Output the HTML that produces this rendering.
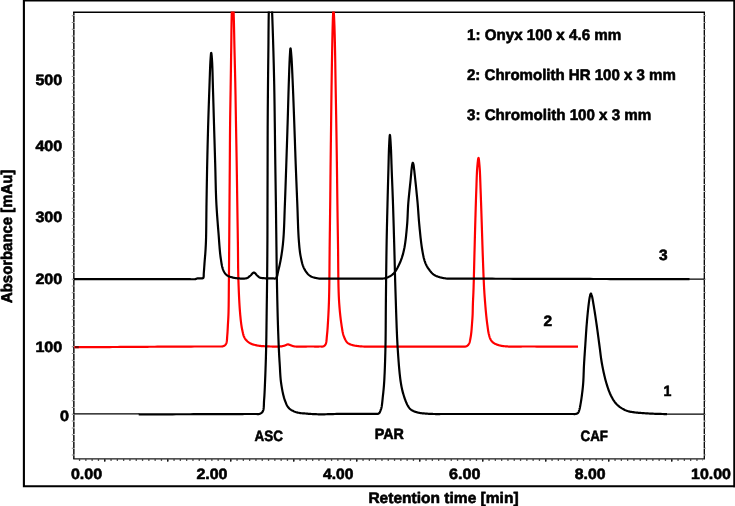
<!DOCTYPE html>
<html lang="en"><head><meta charset="utf-8"><title>Chromatogram</title>
<style>
html,body{margin:0;padding:0;background:#fff;}
body{width:735px;height:506px;overflow:hidden;}
svg{display:block;}
</style></head><body>
<svg width="735" height="506" viewBox="0 0 735 506">
<defs><clipPath id="plot"><rect x="73" y="11.4" width="632" height="448"/></clipPath></defs>
<rect x="0" y="0" width="735" height="506" fill="#fff"/>
<path d="M23.9 0 V486.2 H735" fill="none" stroke="#000" stroke-width="2.1"/>
<path d="M23 0.6 H735" fill="none" stroke="#000" stroke-width="1.6"/>
<path d="M734.2 0 V487.25" fill="none" stroke="#000" stroke-width="1.9"/>
<path d="M73.1 12.2 H704.9" fill="none" stroke="#000" stroke-width="1.6"/>
<path d="M73.85 12 V459" fill="none" stroke="#000" stroke-width="1.4" stroke-dasharray="6.237 0.52" stroke-dashoffset="2.8"/>
<path d="M704.3 12 V459" fill="none" stroke="#000" stroke-width="1.3" stroke-dasharray="6.237 0.52" stroke-dashoffset="2.8"/>
<path d="M73.2 458.8 H705" fill="none" stroke="#1a1a1a" stroke-width="1.3"/>
<path d="M78.9 460.0 H703" fill="none" stroke="#222" stroke-width="1.4" stroke-dasharray="1.3 5.0"/>
<path d="M104.1 460.6 H703" fill="none" stroke="#111" stroke-width="2.4" stroke-dasharray="1.3 61.7"/>
<path d="M72.5 15.2 V459" fill="none" stroke="#888" stroke-width="1.4" stroke-dasharray="1 5.757"/>
<path d="M705.5 15.2 V459" fill="none" stroke="#aaa" stroke-width="1" stroke-dasharray="1 5.757"/>
<g clip-path="url(#plot)" fill="none" stroke-linejoin="round" stroke-linecap="butt">
<path d="M74.30 347.20 L76.44 347.19 L78.56 347.18 L80.68 347.18 L82.79 347.17 L84.91 347.16 L87.03 347.16 L89.15 347.15 L91.29 347.14 L93.44 347.13 L95.60 347.12 L97.79 347.11 L100.00 347.10 L102.42 347.09 L104.87 347.07 L107.34 347.06 L109.83 347.04 L112.34 347.02 L114.86 347.01 L117.38 346.99 L119.91 346.97 L122.45 346.95 L124.97 346.93 L127.49 346.92 L130.00 346.90 L132.49 346.88 L134.95 346.87 L137.40 346.85 L139.84 346.83 L142.28 346.82 L144.73 346.80 L147.19 346.78 L149.68 346.76 L152.20 346.75 L154.75 346.73 L157.35 346.72 L160.00 346.70 L163.19 346.68 L166.56 346.66 L170.05 346.64 L173.62 346.62 L177.23 346.60 L180.84 346.58 L184.41 346.56 L187.88 346.55 L191.22 346.53 L194.38 346.52 L197.32 346.51 L200.00 346.50 L201.53 346.50 L203.03 346.49 L204.48 346.49 L205.89 346.49 L207.25 346.49 L208.55 346.49 L209.79 346.50 L210.98 346.50 L212.09 346.50 L213.14 346.50 L214.11 346.50 L215.00 346.50 L215.42 346.50 L215.82 346.50 L216.19 346.50 L216.54 346.50 L216.87 346.51 L217.18 346.51 L217.49 346.51 L217.79 346.51 L218.09 346.51 L218.39 346.51 L218.69 346.50 L219.00 346.50 L219.29 346.50 L219.58 346.50 L219.86 346.51 L220.15 346.51 L220.43 346.52 L220.71 346.52 L220.99 346.52 L221.26 346.51 L221.53 346.50 L221.79 346.48 L222.05 346.44 L222.30 346.40 L222.51 346.36 L222.72 346.31 L222.93 346.25 L223.13 346.20 L223.33 346.14 L223.52 346.07 L223.72 345.99 L223.90 345.91 L224.08 345.82 L224.26 345.72 L224.43 345.62 L224.60 345.50 L224.77 345.37 L224.94 345.23 L225.10 345.08 L225.25 344.93 L225.40 344.77 L225.55 344.60 L225.69 344.42 L225.82 344.22 L225.95 344.01 L226.07 343.79 L226.19 343.55 L226.30 343.30 L226.47 342.81 L226.61 342.26 L226.73 341.64 L226.83 340.98 L226.91 340.29 L226.98 339.56 L227.04 338.80 L227.09 338.04 L227.14 337.26 L227.19 336.50 L227.24 335.74 L227.30 335.00 L227.37 334.20 L227.43 333.40 L227.49 332.59 L227.54 331.77 L227.59 330.94 L227.64 330.11 L227.68 329.27 L227.72 328.43 L227.77 327.58 L227.81 326.73 L227.85 325.87 L227.90 325.00 L227.95 324.07 L228.01 323.16 L228.06 322.26 L228.11 321.36 L228.17 320.46 L228.22 319.54 L228.27 318.59 L228.32 317.61 L228.37 316.59 L228.42 315.52 L228.46 314.40 L228.50 313.20 L228.56 311.03 L228.61 308.66 L228.66 306.11 L228.69 303.43 L228.73 300.63 L228.75 297.73 L228.78 294.78 L228.80 291.79 L228.83 288.79 L228.85 285.81 L228.87 282.87 L228.90 280.00 L228.93 277.06 L228.96 274.11 L228.98 271.15 L229.01 268.18 L229.03 265.20 L229.06 262.21 L229.08 259.21 L229.11 256.19 L229.13 253.17 L229.15 250.13 L229.18 247.07 L229.20 244.00 L229.23 240.74 L229.25 237.46 L229.28 234.15 L229.30 230.82 L229.33 227.48 L229.35 224.13 L229.38 220.77 L229.40 217.41 L229.43 214.05 L229.45 210.69 L229.48 207.34 L229.50 204.00 L229.52 200.67 L229.55 197.33 L229.57 194.00 L229.60 190.67 L229.62 187.33 L229.65 184.00 L229.68 180.67 L229.70 177.33 L229.72 174.00 L229.75 170.67 L229.78 167.33 L229.80 164.00 L229.82 160.67 L229.85 157.33 L229.87 154.00 L229.89 150.67 L229.91 147.33 L229.93 144.00 L229.95 140.67 L229.98 137.33 L230.00 134.00 L230.03 130.67 L230.06 127.33 L230.10 124.00 L230.14 120.66 L230.18 117.30 L230.23 113.92 L230.28 110.55 L230.33 107.17 L230.39 103.80 L230.44 100.44 L230.49 97.09 L230.55 93.77 L230.60 90.48 L230.65 87.22 L230.70 84.00 L230.74 81.08 L230.79 78.20 L230.83 75.35 L230.87 72.53 L230.91 69.73 L230.95 66.95 L230.99 64.16 L231.03 61.37 L231.07 58.57 L231.11 55.74 L231.16 52.89 L231.20 50.00 L231.25 46.86 L231.29 43.63 L231.33 40.32 L231.37 36.97 L231.41 33.61 L231.45 30.25 L231.50 26.94 L231.55 23.70 L231.60 20.56 L231.66 17.54 L231.73 14.68 L231.80 12.00 L231.85 10.15 L231.91 8.20 L231.97 6.19 L232.04 4.17 L232.10 2.21 L232.17 0.33 L232.24 -1.39 L232.31 -2.91 L232.38 -4.19 L232.45 -5.16 L232.53 -5.78 L232.60 -6.00 L232.68 -5.78 L232.76 -5.16 L232.84 -4.19 L232.93 -2.91 L233.02 -1.39 L233.11 0.33 L233.20 2.20 L233.28 4.17 L233.37 6.19 L233.45 8.20 L233.53 10.15 L233.60 12.00 L233.70 14.68 L233.79 17.54 L233.87 20.56 L233.95 23.70 L234.02 26.94 L234.09 30.25 L234.16 33.60 L234.23 36.97 L234.29 40.32 L234.36 43.63 L234.43 46.86 L234.50 50.00 L234.57 52.89 L234.64 55.74 L234.71 58.57 L234.78 61.37 L234.84 64.16 L234.91 66.95 L234.98 69.73 L235.05 72.53 L235.11 75.35 L235.18 78.20 L235.24 81.08 L235.30 84.00 L235.36 87.22 L235.43 90.48 L235.49 93.77 L235.55 97.09 L235.60 100.44 L235.66 103.80 L235.72 107.17 L235.77 110.55 L235.83 113.92 L235.89 117.30 L235.94 120.66 L236.00 124.00 L236.06 127.33 L236.12 130.67 L236.18 134.00 L236.24 137.33 L236.30 140.67 L236.36 144.00 L236.42 147.33 L236.47 150.67 L236.53 154.00 L236.59 157.33 L236.65 160.67 L236.70 164.00 L236.75 167.33 L236.81 170.67 L236.86 174.00 L236.91 177.33 L236.96 180.67 L237.01 184.00 L237.06 187.33 L237.10 190.67 L237.15 194.00 L237.20 197.33 L237.25 200.67 L237.30 204.00 L237.35 207.34 L237.40 210.69 L237.45 214.05 L237.50 217.41 L237.55 220.77 L237.60 224.13 L237.66 227.48 L237.71 230.82 L237.76 234.15 L237.80 237.46 L237.85 240.74 L237.90 244.00 L237.94 247.07 L237.97 250.13 L238.00 253.17 L238.02 256.20 L238.05 259.21 L238.07 262.21 L238.10 265.20 L238.14 268.18 L238.19 271.15 L238.24 274.11 L238.31 277.06 L238.40 280.00 L238.50 282.85 L238.60 285.75 L238.71 288.66 L238.82 291.59 L238.95 294.51 L239.08 297.40 L239.23 300.25 L239.38 303.03 L239.54 305.74 L239.72 308.35 L239.90 310.84 L240.10 313.20 L240.24 314.80 L240.39 316.37 L240.53 317.90 L240.68 319.38 L240.84 320.83 L241.00 322.24 L241.17 323.60 L241.35 324.92 L241.54 326.21 L241.75 327.45 L241.97 328.64 L242.20 329.80 L242.37 330.60 L242.53 331.38 L242.69 332.13 L242.86 332.87 L243.02 333.58 L243.20 334.27 L243.39 334.94 L243.60 335.59 L243.83 336.22 L244.09 336.83 L244.38 337.43 L244.70 338.00 L245.02 338.51 L245.36 339.00 L245.71 339.47 L246.09 339.93 L246.48 340.38 L246.89 340.80 L247.32 341.21 L247.76 341.61 L248.22 341.98 L248.70 342.34 L249.19 342.68 L249.70 343.00 L250.29 343.33 L250.90 343.63 L251.55 343.91 L252.22 344.16 L252.90 344.39 L253.61 344.61 L254.33 344.80 L255.05 344.98 L255.79 345.15 L256.53 345.31 L257.26 345.46 L258.00 345.60 L258.79 345.74 L259.59 345.86 L260.39 345.96 L261.20 346.05 L262.02 346.12 L262.85 346.18 L263.68 346.22 L264.53 346.27 L265.38 346.30 L266.24 346.33 L267.12 346.37 L268.00 346.40 L269.05 346.44 L270.16 346.48 L271.32 346.51 L272.51 346.55 L273.72 346.57 L274.91 346.59 L276.09 346.59 L277.22 346.58 L278.29 346.56 L279.29 346.53 L280.20 346.47 L281.00 346.40 L281.37 346.35 L281.72 346.30 L282.04 346.25 L282.34 346.19 L282.63 346.13 L282.90 346.06 L283.17 345.99 L283.43 345.92 L283.69 345.84 L283.95 345.76 L284.22 345.68 L284.50 345.60 L284.79 345.51 L285.07 345.40 L285.36 345.27 L285.65 345.14 L285.93 345.01 L286.22 344.88 L286.50 344.76 L286.78 344.64 L287.06 344.55 L287.34 344.47 L287.62 344.42 L287.90 344.40 L288.16 344.41 L288.42 344.45 L288.68 344.50 L288.94 344.58 L289.19 344.67 L289.45 344.77 L289.70 344.88 L289.96 344.99 L290.21 345.10 L290.47 345.21 L290.73 345.31 L291.00 345.40 L291.28 345.49 L291.54 345.58 L291.80 345.67 L292.05 345.76 L292.31 345.85 L292.57 345.94 L292.84 346.03 L293.13 346.11 L293.44 346.20 L293.76 346.27 L294.12 346.34 L294.50 346.40 L295.41 346.50 L296.48 346.57 L297.67 346.61 L298.97 346.63 L300.34 346.63 L301.76 346.62 L303.22 346.60 L304.67 346.57 L306.10 346.54 L307.48 346.52 L308.79 346.50 L310.00 346.50 L310.93 346.50 L311.85 346.51 L312.77 346.51 L313.69 346.52 L314.58 346.53 L315.46 346.53 L316.31 346.53 L317.13 346.53 L317.91 346.53 L318.66 346.53 L319.35 346.52 L320.00 346.50 L320.36 346.50 L320.70 346.50 L321.03 346.51 L321.35 346.53 L321.65 346.54 L321.94 346.55 L322.22 346.55 L322.49 346.54 L322.75 346.51 L323.01 346.47 L323.26 346.40 L323.50 346.30 L323.73 346.19 L323.94 346.06 L324.15 345.92 L324.35 345.77 L324.55 345.60 L324.74 345.42 L324.91 345.22 L325.09 345.01 L325.25 344.78 L325.41 344.54 L325.56 344.28 L325.70 344.00 L325.92 343.48 L326.10 342.88 L326.25 342.21 L326.38 341.50 L326.48 340.73 L326.57 339.94 L326.65 339.11 L326.72 338.28 L326.78 337.44 L326.85 336.61 L326.92 335.79 L327.00 335.00 L327.09 334.19 L327.17 333.40 L327.24 332.62 L327.31 331.85 L327.38 331.06 L327.44 330.27 L327.50 329.46 L327.56 328.62 L327.62 327.76 L327.68 326.85 L327.74 325.90 L327.80 324.90 L327.90 323.24 L328.01 321.51 L328.12 319.69 L328.23 317.79 L328.33 315.81 L328.44 313.76 L328.54 311.64 L328.65 309.45 L328.74 307.19 L328.83 304.86 L328.92 302.46 L329.00 300.00 L329.10 296.09 L329.19 291.85 L329.27 287.36 L329.34 282.65 L329.39 277.78 L329.44 272.81 L329.48 267.80 L329.52 262.80 L329.56 257.86 L329.61 253.05 L329.65 248.41 L329.70 244.00 L329.74 240.43 L329.79 236.94 L329.83 233.53 L329.88 230.17 L329.92 226.86 L329.96 223.58 L330.00 220.33 L330.04 217.08 L330.08 213.84 L330.12 210.59 L330.16 207.31 L330.20 204.00 L330.24 200.67 L330.27 197.33 L330.30 194.00 L330.34 190.67 L330.37 187.33 L330.40 184.00 L330.43 180.67 L330.46 177.33 L330.50 174.00 L330.53 170.67 L330.56 167.33 L330.60 164.00 L330.64 160.67 L330.68 157.33 L330.72 154.00 L330.76 150.67 L330.80 147.33 L330.84 144.00 L330.89 140.67 L330.93 137.33 L330.97 134.00 L331.02 130.67 L331.06 127.33 L331.10 124.00 L331.14 120.66 L331.18 117.31 L331.22 113.95 L331.26 110.59 L331.30 107.23 L331.34 103.87 L331.38 100.52 L331.42 97.18 L331.47 93.85 L331.51 90.54 L331.55 87.26 L331.60 84.00 L331.65 80.91 L331.69 77.80 L331.74 74.68 L331.79 71.56 L331.84 68.46 L331.89 65.38 L331.94 62.33 L331.99 59.33 L332.05 56.39 L332.10 53.51 L332.15 50.71 L332.20 48.00 L332.24 45.88 L332.28 43.77 L332.32 41.69 L332.36 39.64 L332.40 37.63 L332.44 35.65 L332.48 33.73 L332.53 31.86 L332.57 30.04 L332.61 28.29 L332.66 26.61 L332.70 25.00 L332.73 23.93 L332.76 22.88 L332.79 21.85 L332.82 20.86 L332.85 19.89 L332.88 18.95 L332.91 18.04 L332.94 17.16 L332.98 16.32 L333.02 15.51 L333.06 14.73 L333.10 14.00 L333.13 13.53 L333.16 13.03 L333.19 12.52 L333.23 12.02 L333.26 11.53 L333.29 11.06 L333.33 10.64 L333.36 10.26 L333.40 9.95 L333.43 9.71 L333.47 9.55 L333.50 9.50 L333.53 9.55 L333.57 9.71 L333.60 9.95 L333.64 10.26 L333.67 10.64 L333.70 11.06 L333.74 11.53 L333.77 12.02 L333.80 12.52 L333.84 13.03 L333.87 13.53 L333.90 14.00 L333.95 14.73 L333.99 15.51 L334.04 16.32 L334.08 17.16 L334.12 18.04 L334.16 18.95 L334.20 19.89 L334.24 20.86 L334.28 21.85 L334.32 22.88 L334.36 23.93 L334.40 25.00 L334.46 26.61 L334.51 28.29 L334.56 30.04 L334.61 31.85 L334.67 33.73 L334.72 35.65 L334.76 37.63 L334.81 39.64 L334.86 41.69 L334.91 43.77 L334.95 45.88 L335.00 48.00 L335.06 50.71 L335.11 53.51 L335.16 56.39 L335.21 59.33 L335.26 62.33 L335.31 65.38 L335.35 68.46 L335.40 71.56 L335.45 74.68 L335.50 77.80 L335.55 80.91 L335.60 84.00 L335.66 87.26 L335.71 90.54 L335.77 93.85 L335.83 97.18 L335.89 100.52 L335.95 103.87 L336.01 107.23 L336.07 110.59 L336.13 113.95 L336.19 117.31 L336.24 120.66 L336.30 124.00 L336.35 127.33 L336.41 130.67 L336.46 134.00 L336.51 137.33 L336.56 140.67 L336.61 144.00 L336.66 147.33 L336.71 150.67 L336.76 154.00 L336.81 157.33 L336.85 160.67 L336.90 164.00 L336.94 167.33 L336.99 170.67 L337.03 174.00 L337.07 177.33 L337.11 180.67 L337.15 184.00 L337.19 187.33 L337.23 190.67 L337.27 194.00 L337.31 197.33 L337.36 200.67 L337.40 204.00 L337.45 207.31 L337.49 210.59 L337.54 213.84 L337.58 217.08 L337.63 220.33 L337.68 223.58 L337.73 226.86 L337.78 230.17 L337.83 233.53 L337.89 236.94 L337.94 240.43 L338.00 244.00 L338.06 248.41 L338.11 253.05 L338.15 257.87 L338.19 262.80 L338.23 267.81 L338.28 272.82 L338.33 277.78 L338.41 282.65 L338.51 287.36 L338.64 291.86 L338.80 296.09 L339.00 300.00 L339.15 302.46 L339.32 304.84 L339.49 307.15 L339.68 309.40 L339.88 311.57 L340.09 313.67 L340.30 315.71 L340.53 317.68 L340.76 319.58 L341.00 321.42 L341.25 323.19 L341.50 324.90 L341.67 326.04 L341.84 327.14 L342.00 328.21 L342.16 329.25 L342.33 330.26 L342.50 331.23 L342.69 332.18 L342.89 333.10 L343.10 333.99 L343.34 334.85 L343.61 335.69 L343.90 336.50 L344.15 337.12 L344.40 337.74 L344.66 338.34 L344.94 338.93 L345.22 339.50 L345.52 340.05 L345.83 340.58 L346.15 341.08 L346.49 341.56 L346.84 342.00 L347.21 342.42 L347.60 342.80 L347.95 343.10 L348.31 343.36 L348.68 343.61 L349.07 343.82 L349.46 344.02 L349.87 344.20 L350.29 344.37 L350.71 344.53 L351.15 344.68 L351.59 344.82 L352.04 344.96 L352.50 345.10 L353.06 345.26 L353.64 345.41 L354.24 345.54 L354.85 345.66 L355.48 345.76 L356.12 345.86 L356.76 345.95 L357.41 346.03 L358.06 346.10 L358.71 346.17 L359.36 346.24 L360.00 346.30 L360.65 346.36 L361.31 346.41 L361.96 346.45 L362.61 346.48 L363.27 346.51 L363.93 346.53 L364.59 346.54 L365.26 346.56 L365.93 346.57 L366.61 346.58 L367.30 346.59 L368.00 346.60 L368.79 346.61 L369.59 346.62 L370.40 346.62 L371.22 346.63 L372.04 346.63 L372.87 346.62 L373.71 346.62 L374.56 346.61 L375.41 346.61 L376.27 346.60 L377.13 346.60 L378.00 346.60 L378.94 346.60 L379.87 346.60 L380.80 346.60 L381.72 346.60 L382.65 346.60 L383.59 346.60 L384.56 346.60 L385.56 346.60 L386.59 346.60 L387.67 346.60 L388.81 346.60 L390.00 346.60 L392.03 346.60 L394.22 346.60 L396.55 346.60 L399.00 346.60 L401.54 346.60 L404.16 346.60 L406.82 346.60 L409.50 346.60 L412.18 346.60 L414.84 346.60 L417.46 346.60 L420.00 346.60 L422.55 346.60 L425.19 346.60 L427.88 346.60 L430.60 346.60 L433.31 346.60 L436.00 346.60 L438.64 346.60 L441.19 346.60 L443.63 346.60 L445.93 346.60 L448.06 346.60 L450.00 346.60 L451.03 346.60 L452.01 346.60 L452.94 346.60 L453.84 346.61 L454.69 346.61 L455.51 346.61 L456.31 346.61 L457.08 346.61 L457.83 346.61 L458.56 346.61 L459.28 346.61 L460.00 346.60 L460.53 346.60 L461.06 346.61 L461.59 346.62 L462.10 346.64 L462.60 346.65 L463.09 346.66 L463.57 346.67 L464.02 346.66 L464.46 346.65 L464.86 346.62 L465.25 346.57 L465.60 346.50 L465.80 346.45 L465.99 346.40 L466.17 346.34 L466.33 346.28 L466.49 346.22 L466.65 346.15 L466.80 346.08 L466.94 346.00 L467.08 345.91 L467.22 345.81 L467.36 345.71 L467.50 345.60 L467.66 345.46 L467.82 345.31 L467.98 345.15 L468.13 344.98 L468.28 344.80 L468.42 344.61 L468.56 344.42 L468.70 344.21 L468.83 344.00 L468.96 343.77 L469.08 343.54 L469.20 343.30 L469.35 342.95 L469.49 342.56 L469.62 342.15 L469.74 341.72 L469.85 341.27 L469.96 340.81 L470.06 340.34 L470.15 339.87 L470.24 339.39 L470.33 338.92 L470.41 338.45 L470.50 338.00 L470.59 337.55 L470.67 337.11 L470.74 336.66 L470.81 336.22 L470.88 335.78 L470.95 335.34 L471.01 334.89 L471.07 334.43 L471.13 333.96 L471.18 333.49 L471.24 333.00 L471.30 332.50 L471.37 331.86 L471.44 331.19 L471.50 330.51 L471.56 329.81 L471.62 329.10 L471.68 328.38 L471.73 327.65 L471.79 326.92 L471.84 326.19 L471.89 325.45 L471.95 324.72 L472.00 324.00 L472.06 323.26 L472.11 322.53 L472.17 321.79 L472.22 321.05 L472.27 320.31 L472.33 319.57 L472.38 318.83 L472.43 318.08 L472.47 317.32 L472.52 316.56 L472.56 315.78 L472.60 315.00 L472.64 314.13 L472.67 313.25 L472.70 312.36 L472.72 311.46 L472.74 310.56 L472.76 309.65 L472.78 308.73 L472.80 307.81 L472.82 306.87 L472.84 305.92 L472.87 304.97 L472.90 304.00 L472.94 302.91 L472.98 301.83 L473.03 300.76 L473.08 299.68 L473.13 298.60 L473.18 297.49 L473.24 296.35 L473.29 295.18 L473.34 293.97 L473.40 292.71 L473.45 291.39 L473.50 290.00 L473.58 287.69 L473.65 285.19 L473.73 282.54 L473.80 279.77 L473.88 276.89 L473.95 273.93 L474.03 270.92 L474.10 267.88 L474.18 264.85 L474.25 261.84 L474.33 258.88 L474.40 256.00 L474.47 253.16 L474.55 250.32 L474.62 247.48 L474.70 244.63 L474.77 241.78 L474.84 238.94 L474.92 236.09 L474.99 233.26 L475.07 230.43 L475.14 227.61 L475.22 224.80 L475.30 222.00 L475.38 219.28 L475.46 216.55 L475.54 213.81 L475.62 211.07 L475.70 208.33 L475.78 205.61 L475.86 202.91 L475.95 200.24 L476.03 197.61 L476.12 195.02 L476.21 192.48 L476.30 190.00 L476.37 187.92 L476.45 185.83 L476.51 183.74 L476.58 181.66 L476.65 179.61 L476.72 177.60 L476.80 175.64 L476.88 173.75 L476.97 171.92 L477.07 170.18 L477.18 168.54 L477.30 167.00 L477.38 166.04 L477.48 165.03 L477.57 164.00 L477.67 162.98 L477.77 161.99 L477.88 161.05 L477.98 160.19 L478.09 159.43 L478.20 158.80 L478.30 158.31 L478.40 158.01 L478.50 157.90 L478.60 158.01 L478.69 158.32 L478.79 158.80 L478.89 159.43 L478.98 160.19 L479.08 161.05 L479.17 161.99 L479.26 162.98 L479.35 164.00 L479.44 165.03 L479.52 166.04 L479.60 167.00 L479.72 168.54 L479.82 170.18 L479.92 171.92 L480.00 173.75 L480.08 175.65 L480.16 177.61 L480.23 179.62 L480.30 181.66 L480.38 183.74 L480.45 185.83 L480.52 187.92 L480.60 190.00 L480.69 192.48 L480.79 195.02 L480.88 197.61 L480.97 200.24 L481.07 202.91 L481.16 205.61 L481.25 208.33 L481.34 211.07 L481.43 213.81 L481.52 216.55 L481.61 219.28 L481.70 222.00 L481.79 224.80 L481.88 227.62 L481.97 230.45 L482.06 233.30 L482.15 236.15 L482.24 239.00 L482.33 241.85 L482.42 244.71 L482.51 247.55 L482.60 250.38 L482.70 253.20 L482.80 256.00 L482.90 258.73 L483.00 261.51 L483.10 264.30 L483.20 267.11 L483.31 269.91 L483.41 272.69 L483.52 275.43 L483.63 278.11 L483.74 280.73 L483.86 283.26 L483.98 285.69 L484.10 288.00 L484.19 289.62 L484.29 291.19 L484.38 292.71 L484.48 294.20 L484.58 295.65 L484.68 297.07 L484.79 298.45 L484.89 299.81 L484.99 301.14 L485.09 302.44 L485.20 303.73 L485.30 305.00 L485.38 306.00 L485.46 306.98 L485.54 307.93 L485.62 308.86 L485.70 309.78 L485.78 310.68 L485.86 311.58 L485.95 312.46 L486.03 313.34 L486.12 314.23 L486.21 315.11 L486.30 316.00 L486.39 316.85 L486.48 317.71 L486.58 318.56 L486.67 319.41 L486.77 320.26 L486.87 321.10 L486.97 321.94 L487.07 322.77 L487.18 323.59 L487.28 324.41 L487.39 325.21 L487.50 326.00 L487.60 326.70 L487.69 327.40 L487.79 328.10 L487.88 328.79 L487.97 329.47 L488.07 330.15 L488.17 330.81 L488.28 331.47 L488.39 332.12 L488.52 332.76 L488.65 333.39 L488.80 334.00 L488.93 334.53 L489.07 335.06 L489.21 335.58 L489.35 336.10 L489.50 336.61 L489.66 337.11 L489.82 337.60 L489.99 338.08 L490.18 338.54 L490.37 338.98 L490.58 339.40 L490.80 339.80 L490.99 340.11 L491.18 340.40 L491.39 340.69 L491.60 340.96 L491.81 341.22 L492.04 341.47 L492.27 341.71 L492.50 341.94 L492.74 342.17 L492.99 342.39 L493.24 342.60 L493.50 342.80 L493.76 342.99 L494.03 343.17 L494.30 343.35 L494.58 343.51 L494.86 343.66 L495.15 343.81 L495.44 343.95 L495.74 344.09 L496.05 344.22 L496.36 344.35 L496.68 344.48 L497.00 344.60 L497.38 344.74 L497.77 344.87 L498.16 345.00 L498.57 345.12 L498.98 345.24 L499.40 345.35 L499.83 345.45 L500.25 345.55 L500.69 345.64 L501.12 345.73 L501.56 345.82 L502.00 345.90 L502.48 345.98 L502.96 346.05 L503.45 346.12 L503.94 346.18 L504.43 346.23 L504.93 346.28 L505.43 346.33 L505.94 346.37 L506.45 346.40 L506.97 346.44 L507.48 346.47 L508.00 346.50 L508.56 346.53 L509.12 346.55 L509.68 346.57 L510.25 346.58 L510.81 346.59 L511.39 346.60 L511.97 346.60 L512.55 346.60 L513.15 346.60 L513.75 346.60 L514.37 346.60 L515.00 346.60 L515.76 346.60 L516.51 346.60 L517.27 346.59 L518.03 346.58 L518.81 346.57 L519.61 346.56 L520.42 346.54 L521.27 346.53 L522.14 346.52 L523.05 346.51 L524.00 346.50 L525.00 346.50 L526.68 346.50 L528.50 346.50 L530.43 346.50 L532.45 346.51 L534.55 346.52 L536.71 346.53 L538.91 346.54 L541.14 346.56 L543.39 346.57 L545.62 346.58 L547.83 346.59 L550.00 346.60 L552.28 346.61 L554.57 346.62 L556.89 346.63 L559.22 346.63 L561.55 346.64 L563.90 346.65 L566.25 346.66 L568.61 346.67 L570.96 346.68 L573.31 346.68 L575.66 346.69 L578.00 346.70" stroke="#f00" stroke-width="2.2"/>
<path d="M75.1 347.2 H78.8" stroke="#7a0000" stroke-width="2.2"/>
<path d="M74.00 279.10 L76.16 279.10 L78.31 279.10 L80.46 279.10 L82.60 279.10 L84.74 279.10 L86.88 279.10 L89.03 279.10 L91.20 279.10 L93.37 279.10 L95.56 279.10 L97.77 279.10 L100.00 279.10 L102.42 279.10 L104.88 279.10 L107.35 279.10 L109.84 279.10 L112.35 279.10 L114.87 279.10 L117.39 279.10 L119.92 279.10 L122.45 279.10 L124.98 279.10 L127.49 279.10 L130.00 279.10 L132.51 279.10 L135.03 279.10 L137.56 279.10 L140.10 279.10 L142.64 279.10 L145.17 279.10 L147.69 279.10 L150.20 279.10 L152.69 279.10 L155.16 279.10 L157.60 279.10 L160.00 279.10 L162.20 279.10 L164.42 279.10 L166.66 279.10 L168.90 279.10 L171.12 279.10 L173.31 279.10 L175.46 279.10 L177.54 279.10 L179.55 279.10 L181.48 279.10 L183.30 279.10 L185.00 279.10 L186.06 279.11 L187.12 279.13 L188.17 279.15 L189.19 279.18 L190.18 279.21 L191.13 279.24 L192.03 279.26 L192.88 279.26 L193.65 279.25 L194.36 279.23 L194.98 279.18 L195.50 279.10 L195.68 279.06 L195.83 279.01 L195.97 278.96 L196.10 278.91 L196.22 278.85 L196.32 278.79 L196.43 278.73 L196.53 278.68 L196.64 278.62 L196.75 278.58 L196.87 278.53 L197.00 278.50 L197.15 278.47 L197.31 278.45 L197.47 278.43 L197.63 278.42 L197.79 278.41 L197.95 278.41 L198.12 278.40 L198.29 278.40 L198.46 278.40 L198.64 278.40 L198.82 278.40 L199.00 278.40 L199.23 278.40 L199.48 278.40 L199.74 278.41 L200.00 278.42 L200.27 278.43 L200.54 278.45 L200.81 278.46 L201.07 278.46 L201.33 278.46 L201.57 278.45 L201.79 278.43 L202.00 278.40 L202.13 278.38 L202.26 278.36 L202.38 278.34 L202.50 278.32 L202.62 278.29 L202.73 278.27 L202.84 278.23 L202.94 278.19 L203.04 278.14 L203.13 278.07 L203.22 277.99 L203.30 277.90 L203.43 277.68 L203.53 277.41 L203.60 277.08 L203.65 276.72 L203.69 276.32 L203.71 275.90 L203.72 275.44 L203.73 274.97 L203.73 274.48 L203.74 273.99 L203.77 273.49 L203.80 273.00 L203.86 272.24 L203.93 271.42 L203.99 270.55 L204.06 269.64 L204.13 268.70 L204.19 267.74 L204.26 266.77 L204.33 265.79 L204.40 264.82 L204.46 263.85 L204.53 262.91 L204.60 262.00 L204.67 261.15 L204.73 260.32 L204.80 259.49 L204.87 258.67 L204.94 257.85 L205.01 257.03 L205.08 256.21 L205.15 255.38 L205.22 254.55 L205.28 253.71 L205.34 252.86 L205.40 252.00 L205.46 251.06 L205.52 250.14 L205.58 249.23 L205.63 248.32 L205.68 247.40 L205.73 246.47 L205.78 245.51 L205.83 244.52 L205.87 243.48 L205.92 242.39 L205.96 241.23 L206.00 240.00 L206.07 237.68 L206.12 235.14 L206.17 232.40 L206.21 229.50 L206.25 226.46 L206.28 223.32 L206.31 220.11 L206.35 216.86 L206.38 213.59 L206.42 210.33 L206.45 207.13 L206.50 204.00 L206.55 200.74 L206.60 197.46 L206.66 194.15 L206.71 190.82 L206.76 187.48 L206.82 184.13 L206.88 180.77 L206.94 177.41 L207.00 174.05 L207.06 170.69 L207.13 167.34 L207.20 164.00 L207.27 160.66 L207.35 157.33 L207.42 153.99 L207.50 150.65 L207.58 147.31 L207.66 143.97 L207.75 140.63 L207.83 137.30 L207.92 133.96 L208.01 130.64 L208.10 127.32 L208.20 124.00 L208.30 120.71 L208.40 117.37 L208.50 114.01 L208.61 110.64 L208.72 107.28 L208.83 103.93 L208.95 100.61 L209.06 97.34 L209.17 94.13 L209.28 90.99 L209.39 87.95 L209.50 85.00 L209.58 82.67 L209.66 80.34 L209.74 78.01 L209.82 75.70 L209.90 73.43 L209.98 71.21 L210.06 69.07 L210.14 67.01 L210.22 65.06 L210.31 63.23 L210.40 61.54 L210.50 60.00 L210.55 59.20 L210.61 58.38 L210.66 57.56 L210.72 56.74 L210.78 55.96 L210.84 55.23 L210.90 54.56 L210.96 53.97 L211.02 53.49 L211.08 53.12 L211.14 52.88 L211.20 52.80 L211.26 52.88 L211.33 53.11 L211.40 53.47 L211.47 53.95 L211.54 54.53 L211.61 55.19 L211.68 55.92 L211.74 56.70 L211.81 57.51 L211.88 58.35 L211.94 59.18 L212.00 60.00 L212.11 61.77 L212.22 63.79 L212.31 66.01 L212.40 68.41 L212.48 70.95 L212.56 73.60 L212.63 76.32 L212.70 79.10 L212.77 81.89 L212.85 84.65 L212.92 87.37 L213.00 90.00 L213.09 92.75 L213.17 95.51 L213.25 98.29 L213.33 101.07 L213.42 103.88 L213.50 106.69 L213.58 109.53 L213.66 112.38 L213.74 115.26 L213.83 118.15 L213.91 121.06 L214.00 124.00 L214.10 127.22 L214.19 130.49 L214.29 133.80 L214.39 137.13 L214.50 140.49 L214.60 143.86 L214.70 147.24 L214.80 150.62 L214.90 154.00 L215.00 157.36 L215.10 160.69 L215.20 164.00 L215.29 167.21 L215.37 170.43 L215.45 173.66 L215.52 176.88 L215.59 180.10 L215.67 183.30 L215.75 186.49 L215.83 189.66 L215.93 192.80 L216.04 195.90 L216.16 198.97 L216.30 202.00 L216.44 204.71 L216.60 207.39 L216.76 210.05 L216.94 212.69 L217.12 215.31 L217.31 217.91 L217.51 220.48 L217.70 223.03 L217.90 225.56 L218.10 228.06 L218.30 230.54 L218.50 233.00 L218.67 235.21 L218.83 237.43 L218.99 239.65 L219.15 241.87 L219.31 244.07 L219.48 246.23 L219.65 248.36 L219.83 250.44 L220.02 252.45 L220.23 254.39 L220.45 256.24 L220.70 258.00 L220.88 259.19 L221.05 260.36 L221.22 261.50 L221.39 262.62 L221.57 263.70 L221.76 264.75 L221.96 265.76 L222.18 266.73 L222.42 267.67 L222.68 268.56 L222.97 269.40 L223.30 270.20 L223.55 270.74 L223.80 271.25 L224.06 271.75 L224.33 272.22 L224.61 272.67 L224.90 273.11 L225.21 273.52 L225.53 273.91 L225.87 274.29 L226.22 274.64 L226.60 274.98 L227.00 275.30 L227.45 275.61 L227.93 275.89 L228.43 276.15 L228.96 276.38 L229.51 276.59 L230.07 276.79 L230.64 276.97 L231.22 277.13 L231.80 277.28 L232.37 277.43 L232.94 277.57 L233.50 277.70 L234.04 277.82 L234.59 277.93 L235.15 278.02 L235.71 278.11 L236.27 278.18 L236.84 278.24 L237.39 278.30 L237.94 278.35 L238.48 278.39 L239.00 278.43 L239.51 278.46 L240.00 278.50 L240.37 278.53 L240.73 278.55 L241.08 278.58 L241.42 278.60 L241.76 278.62 L242.09 278.63 L242.42 278.64 L242.74 278.64 L243.06 278.64 L243.37 278.64 L243.69 278.62 L244.00 278.60 L244.28 278.58 L244.56 278.56 L244.83 278.53 L245.10 278.50 L245.37 278.47 L245.64 278.44 L245.90 278.39 L246.17 278.34 L246.43 278.27 L246.69 278.20 L246.94 278.11 L247.20 278.00 L247.49 277.86 L247.77 277.70 L248.05 277.52 L248.33 277.32 L248.60 277.11 L248.87 276.89 L249.15 276.66 L249.42 276.43 L249.69 276.20 L249.96 275.96 L250.23 275.73 L250.50 275.50 L250.79 275.24 L251.07 274.95 L251.36 274.64 L251.64 274.31 L251.93 273.97 L252.21 273.65 L252.50 273.34 L252.78 273.07 L253.06 272.83 L253.34 272.66 L253.62 272.54 L253.90 272.50 L254.16 272.54 L254.43 272.65 L254.69 272.82 L254.95 273.04 L255.21 273.29 L255.47 273.58 L255.73 273.88 L255.98 274.19 L256.24 274.50 L256.49 274.79 L256.75 275.06 L257.00 275.30 L257.23 275.50 L257.44 275.70 L257.66 275.91 L257.87 276.11 L258.08 276.32 L258.29 276.51 L258.50 276.71 L258.72 276.89 L258.95 277.06 L259.19 277.22 L259.44 277.37 L259.70 277.50 L260.01 277.63 L260.32 277.73 L260.65 277.82 L260.98 277.89 L261.33 277.95 L261.68 278.00 L262.04 278.04 L262.42 278.07 L262.80 278.11 L263.19 278.14 L263.59 278.17 L264.00 278.20 L264.59 278.24 L265.22 278.28 L265.89 278.30 L266.58 278.32 L267.30 278.33 L268.02 278.33 L268.73 278.33 L269.44 278.32 L270.13 278.32 L270.80 278.31 L271.42 278.30 L272.00 278.30 L272.39 278.31 L272.77 278.34 L273.14 278.39 L273.51 278.44 L273.87 278.49 L274.21 278.53 L274.55 278.56 L274.87 278.56 L275.17 278.53 L275.47 278.47 L275.74 278.36 L276.00 278.20 L276.32 277.89 L276.59 277.50 L276.82 277.03 L277.02 276.49 L277.19 275.89 L277.34 275.25 L277.48 274.57 L277.61 273.87 L277.74 273.15 L277.88 272.42 L278.03 271.70 L278.20 271.00 L278.44 270.06 L278.68 269.09 L278.93 268.08 L279.17 267.04 L279.42 265.97 L279.66 264.88 L279.89 263.77 L280.13 262.64 L280.36 261.50 L280.58 260.34 L280.79 259.17 L281.00 258.00 L281.23 256.63 L281.46 255.25 L281.67 253.86 L281.88 252.46 L282.08 251.03 L282.28 249.58 L282.46 248.10 L282.64 246.58 L282.82 245.01 L282.98 243.40 L283.15 241.73 L283.30 240.00 L283.50 237.44 L283.68 234.74 L283.84 231.92 L283.99 228.99 L284.12 225.98 L284.24 222.90 L284.35 219.76 L284.46 216.60 L284.56 213.43 L284.67 210.25 L284.78 207.11 L284.90 204.00 L285.03 200.74 L285.15 197.46 L285.27 194.15 L285.39 190.82 L285.51 187.48 L285.62 184.13 L285.74 180.77 L285.85 177.41 L285.96 174.05 L286.08 170.69 L286.19 167.34 L286.30 164.00 L286.41 160.67 L286.52 157.36 L286.63 154.04 L286.74 150.74 L286.85 147.43 L286.96 144.12 L287.07 140.80 L287.17 137.47 L287.28 134.13 L287.39 130.78 L287.49 127.40 L287.60 124.00 L287.71 120.37 L287.82 116.65 L287.93 112.86 L288.04 109.03 L288.14 105.19 L288.25 101.36 L288.36 97.56 L288.47 93.83 L288.57 90.18 L288.68 86.64 L288.79 83.24 L288.90 80.00 L288.98 77.62 L289.06 75.24 L289.14 72.88 L289.22 70.56 L289.30 68.28 L289.39 66.07 L289.47 63.93 L289.55 61.89 L289.64 59.97 L289.72 58.16 L289.81 56.50 L289.90 55.00 L289.95 54.25 L289.99 53.48 L290.04 52.71 L290.09 51.95 L290.14 51.23 L290.18 50.55 L290.23 49.93 L290.28 49.38 L290.33 48.93 L290.39 48.59 L290.44 48.38 L290.50 48.30 L290.56 48.37 L290.62 48.59 L290.69 48.93 L290.76 49.38 L290.82 49.92 L290.89 50.54 L290.96 51.22 L291.03 51.95 L291.10 52.71 L291.17 53.48 L291.24 54.25 L291.30 55.00 L291.42 56.50 L291.54 58.16 L291.65 59.97 L291.76 61.89 L291.86 63.93 L291.97 66.07 L292.08 68.28 L292.18 70.56 L292.28 72.88 L292.39 75.24 L292.49 77.62 L292.60 80.00 L292.74 83.24 L292.89 86.64 L293.03 90.18 L293.18 93.83 L293.32 97.56 L293.47 101.36 L293.61 105.19 L293.75 109.03 L293.89 112.86 L294.03 116.64 L294.17 120.37 L294.30 124.00 L294.42 127.40 L294.54 130.78 L294.66 134.13 L294.78 137.47 L294.89 140.80 L295.00 144.12 L295.11 147.43 L295.23 150.74 L295.34 154.04 L295.46 157.36 L295.58 160.67 L295.70 164.00 L295.83 167.34 L295.96 170.69 L296.09 174.05 L296.22 177.41 L296.35 180.77 L296.49 184.13 L296.62 187.48 L296.76 190.82 L296.90 194.15 L297.03 197.46 L297.17 200.74 L297.30 204.00 L297.42 207.11 L297.53 210.27 L297.64 213.46 L297.74 216.65 L297.85 219.83 L297.96 222.98 L298.07 226.08 L298.19 229.09 L298.32 232.02 L298.46 234.82 L298.62 237.49 L298.80 240.00 L298.93 241.62 L299.05 243.17 L299.17 244.68 L299.30 246.13 L299.43 247.53 L299.57 248.90 L299.72 250.23 L299.88 251.54 L300.06 252.82 L300.25 254.09 L300.46 255.35 L300.70 256.60 L300.91 257.66 L301.12 258.70 L301.34 259.74 L301.56 260.76 L301.79 261.76 L302.04 262.75 L302.30 263.72 L302.59 264.67 L302.90 265.59 L303.23 266.49 L303.60 267.36 L304.00 268.20 L304.38 268.93 L304.78 269.66 L305.19 270.37 L305.63 271.07 L306.08 271.75 L306.55 272.41 L307.04 273.05 L307.55 273.65 L308.09 274.22 L308.64 274.76 L309.21 275.25 L309.80 275.70 L310.40 276.09 L311.03 276.43 L311.69 276.74 L312.38 277.02 L313.09 277.26 L313.81 277.48 L314.53 277.68 L315.25 277.85 L315.97 278.01 L316.67 278.15 L317.35 278.28 L318.00 278.40 L318.53 278.49 L319.04 278.56 L319.55 278.61 L320.06 278.64 L320.55 278.67 L321.05 278.68 L321.54 278.69 L322.03 278.69 L322.52 278.69 L323.01 278.69 L323.50 278.69 L324.00 278.70 L324.50 278.71 L324.98 278.72 L325.46 278.72 L325.94 278.72 L326.42 278.72 L326.90 278.72 L327.39 278.72 L327.89 278.71 L328.39 278.71 L328.91 278.70 L329.45 278.70 L330.00 278.70 L330.73 278.70 L331.48 278.70 L332.24 278.70 L333.02 278.70 L333.81 278.70 L334.63 278.70 L335.46 278.70 L336.32 278.70 L337.20 278.70 L338.11 278.70 L339.04 278.70 L340.00 278.70 L341.44 278.70 L342.97 278.70 L344.58 278.70 L346.26 278.70 L347.99 278.70 L349.75 278.70 L351.52 278.70 L353.29 278.70 L355.04 278.70 L356.75 278.70 L358.41 278.70 L360.00 278.70 L361.35 278.70 L362.70 278.70 L364.06 278.70 L365.41 278.71 L366.74 278.71 L368.06 278.71 L369.34 278.71 L370.58 278.71 L371.78 278.71 L372.92 278.71 L373.99 278.71 L375.00 278.70 L375.60 278.70 L376.17 278.69 L376.71 278.69 L377.23 278.69 L377.74 278.69 L378.22 278.69 L378.70 278.68 L379.17 278.67 L379.63 278.66 L380.08 278.65 L380.54 278.63 L381.00 278.60 L381.40 278.58 L381.78 278.56 L382.15 278.55 L382.52 278.54 L382.88 278.53 L383.24 278.51 L383.60 278.48 L383.96 278.44 L384.33 278.38 L384.71 278.31 L385.10 278.22 L385.50 278.10 L386.09 277.91 L386.71 277.69 L387.35 277.44 L388.02 277.16 L388.69 276.86 L389.37 276.53 L390.05 276.17 L390.72 275.78 L391.38 275.35 L392.01 274.90 L392.62 274.42 L393.20 273.90 L393.86 273.22 L394.50 272.47 L395.12 271.66 L395.71 270.80 L396.29 269.90 L396.84 268.96 L397.38 267.99 L397.90 267.00 L398.40 266.00 L398.88 264.99 L399.35 263.99 L399.80 263.00 L400.25 261.98 L400.68 260.96 L401.08 259.93 L401.46 258.90 L401.83 257.85 L402.17 256.78 L402.51 255.69 L402.82 254.58 L403.13 253.44 L403.43 252.27 L403.72 251.05 L404.00 249.80 L404.36 248.07 L404.69 246.25 L404.99 244.36 L405.28 242.40 L405.54 240.38 L405.79 238.34 L406.02 236.26 L406.23 234.18 L406.44 232.10 L406.63 230.03 L406.82 227.99 L407.00 226.00 L407.16 224.07 L407.30 222.15 L407.42 220.23 L407.52 218.31 L407.61 216.39 L407.69 214.48 L407.77 212.56 L407.85 210.65 L407.94 208.74 L408.04 206.83 L408.16 204.91 L408.30 203.00 L408.46 201.06 L408.64 199.08 L408.83 197.07 L409.03 195.05 L409.23 193.02 L409.44 191.02 L409.65 189.04 L409.86 187.10 L410.06 185.21 L410.26 183.39 L410.44 181.65 L410.60 180.00 L410.71 178.87 L410.81 177.75 L410.91 176.66 L411.00 175.59 L411.10 174.54 L411.19 173.53 L411.27 172.55 L411.36 171.61 L411.44 170.71 L411.53 169.86 L411.61 169.05 L411.70 168.30 L411.75 167.88 L411.80 167.47 L411.85 167.07 L411.89 166.69 L411.94 166.33 L411.98 165.98 L412.03 165.64 L412.08 165.32 L412.13 165.02 L412.18 164.73 L412.24 164.46 L412.30 164.20 L412.34 164.05 L412.38 163.89 L412.42 163.73 L412.46 163.57 L412.50 163.42 L412.54 163.28 L412.58 163.15 L412.62 163.03 L412.67 162.94 L412.71 162.86 L412.75 162.82 L412.80 162.80 L412.85 162.81 L412.90 162.86 L412.95 162.93 L413.00 163.03 L413.05 163.14 L413.11 163.27 L413.16 163.42 L413.21 163.57 L413.26 163.73 L413.31 163.89 L413.36 164.05 L413.40 164.20 L413.47 164.46 L413.53 164.73 L413.58 165.02 L413.63 165.32 L413.68 165.64 L413.72 165.98 L413.77 166.33 L413.81 166.69 L413.85 167.07 L413.90 167.47 L413.95 167.88 L414.00 168.30 L414.09 169.05 L414.19 169.86 L414.29 170.71 L414.40 171.61 L414.50 172.55 L414.61 173.53 L414.72 174.54 L414.83 175.59 L414.95 176.66 L415.06 177.75 L415.18 178.87 L415.30 180.00 L415.47 181.65 L415.66 183.39 L415.85 185.22 L416.05 187.12 L416.25 189.06 L416.45 191.05 L416.65 193.06 L416.85 195.09 L417.05 197.11 L417.24 199.11 L417.43 201.08 L417.60 203.00 L417.76 204.84 L417.90 206.66 L418.04 208.48 L418.17 210.29 L418.30 212.09 L418.42 213.90 L418.55 215.70 L418.68 217.52 L418.82 219.34 L418.97 221.18 L419.13 223.03 L419.30 224.90 L419.50 226.95 L419.70 229.06 L419.92 231.23 L420.14 233.42 L420.37 235.62 L420.60 237.81 L420.85 239.98 L421.10 242.11 L421.36 244.17 L421.63 246.15 L421.91 248.03 L422.20 249.80 L422.41 250.99 L422.61 252.14 L422.81 253.26 L423.02 254.35 L423.23 255.41 L423.45 256.44 L423.67 257.43 L423.91 258.40 L424.16 259.34 L424.42 260.26 L424.70 261.14 L425.00 262.00 L425.24 262.64 L425.48 263.25 L425.73 263.84 L425.99 264.41 L426.25 264.96 L426.52 265.50 L426.80 266.03 L427.09 266.55 L427.40 267.06 L427.72 267.57 L428.05 268.09 L428.40 268.60 L428.79 269.15 L429.19 269.71 L429.61 270.27 L430.04 270.83 L430.49 271.38 L430.95 271.92 L431.42 272.45 L431.91 272.96 L432.40 273.44 L432.89 273.89 L433.39 274.32 L433.90 274.70 L434.35 275.01 L434.81 275.28 L435.27 275.54 L435.74 275.78 L436.22 275.99 L436.71 276.19 L437.20 276.38 L437.69 276.56 L438.19 276.72 L438.69 276.88 L439.19 277.04 L439.70 277.20 L440.23 277.36 L440.77 277.50 L441.32 277.64 L441.87 277.77 L442.43 277.89 L442.99 278.00 L443.55 278.10 L444.11 278.20 L444.67 278.28 L445.22 278.36 L445.76 278.44 L446.30 278.50 L446.78 278.55 L447.26 278.59 L447.73 278.62 L448.19 278.64 L448.65 278.66 L449.11 278.67 L449.57 278.68 L450.04 278.68 L450.52 278.69 L451.00 278.69 L451.49 278.69 L452.00 278.70 L452.61 278.71 L453.21 278.71 L453.82 278.72 L454.43 278.72 L455.05 278.72 L455.69 278.72 L456.34 278.71 L457.02 278.71 L457.71 278.71 L458.44 278.70 L459.20 278.70 L460.00 278.70 L461.33 278.70 L462.73 278.70 L464.21 278.70 L465.75 278.70 L467.35 278.70 L469.01 278.70 L470.72 278.70 L472.49 278.70 L474.31 278.70 L476.17 278.70 L478.06 278.70 L480.00 278.70 L482.85 278.70 L485.87 278.71 L489.03 278.72 L492.32 278.72 L495.69 278.73 L499.14 278.74 L502.64 278.75 L506.16 278.76 L509.68 278.77 L513.17 278.78 L516.62 278.79 L520.00 278.80 L523.33 278.81 L526.67 278.82 L530.00 278.82 L533.33 278.83 L536.67 278.84 L540.00 278.85 L543.33 278.86 L546.67 278.87 L550.00 278.88 L553.33 278.88 L556.67 278.89 L560.00 278.90 L563.33 278.91 L566.67 278.92 L570.00 278.92 L573.33 278.93 L576.67 278.94 L580.00 278.95 L583.33 278.96 L586.67 278.97 L590.00 278.97 L593.33 278.98 L596.67 278.99 L600.00 279.00 L603.38 279.01 L606.83 279.02 L610.32 279.03 L613.84 279.04 L617.36 279.05 L620.86 279.06 L624.31 279.07 L627.68 279.08 L630.97 279.08 L634.13 279.09 L637.15 279.10 L640.00 279.10 L641.89 279.10 L643.69 279.10 L645.39 279.10 L647.03 279.10 L648.62 279.10 L650.19 279.10 L651.74 279.10 L653.30 279.10 L654.89 279.10 L656.52 279.10 L658.22 279.10 L660.00 279.10 L662.26 279.10 L664.59 279.10 L666.97 279.10 L669.41 279.10 L671.89 279.10 L674.39 279.10 L676.92 279.10 L679.46 279.10 L681.99 279.10 L684.52 279.10 L687.02 279.10 L689.50 279.10" stroke="#000" stroke-width="2.2"/>
<path d="M689 279.1 H704.3" stroke="#000" stroke-width="1.4"/>
<path d="M74 413.9 H139.2" stroke="#000" stroke-width="1.3"/>
<path d="M138.70 414.30 L140.45 414.30 L142.17 414.30 L143.87 414.30 L145.55 414.30 L147.24 414.30 L148.93 414.30 L150.65 414.30 L152.41 414.30 L154.21 414.30 L156.06 414.30 L157.99 414.30 L160.00 414.30 L162.91 414.30 L166.01 414.29 L169.26 414.28 L172.62 414.28 L176.07 414.27 L179.58 414.26 L183.11 414.25 L186.63 414.24 L190.11 414.23 L193.52 414.22 L196.83 414.21 L200.00 414.20 L202.67 414.19 L205.32 414.18 L207.94 414.18 L210.54 414.17 L213.11 414.16 L215.65 414.15 L218.15 414.14 L220.61 414.14 L223.03 414.13 L225.40 414.12 L227.73 414.11 L230.00 414.10 L231.85 414.09 L233.70 414.08 L235.56 414.07 L237.40 414.06 L239.21 414.05 L240.98 414.04 L242.70 414.03 L244.35 414.02 L245.92 414.02 L247.39 414.01 L248.76 414.00 L250.00 414.00 L250.63 414.00 L251.22 414.00 L251.78 414.00 L252.32 414.00 L252.83 414.00 L253.32 414.01 L253.79 414.01 L254.25 414.01 L254.70 414.01 L255.13 414.01 L255.57 414.01 L256.00 414.00 L256.33 414.00 L256.64 414.01 L256.95 414.03 L257.25 414.05 L257.55 414.07 L257.84 414.09 L258.12 414.10 L258.40 414.09 L258.68 414.08 L258.95 414.04 L259.23 413.98 L259.50 413.90 L259.80 413.79 L260.10 413.67 L260.41 413.53 L260.71 413.37 L261.01 413.20 L261.30 413.01 L261.59 412.80 L261.86 412.57 L262.12 412.31 L262.37 412.03 L262.59 411.73 L262.80 411.40 L263.09 410.77 L263.33 410.05 L263.51 409.24 L263.64 408.36 L263.74 407.41 L263.81 406.41 L263.86 405.37 L263.90 404.31 L263.93 403.22 L263.97 402.14 L264.03 401.06 L264.10 400.00 L264.20 398.72 L264.29 397.43 L264.38 396.12 L264.46 394.79 L264.53 393.44 L264.60 392.06 L264.67 390.65 L264.73 389.21 L264.80 387.72 L264.86 386.20 L264.93 384.62 L265.00 383.00 L265.10 380.64 L265.20 378.16 L265.30 375.59 L265.40 372.92 L265.50 370.18 L265.59 367.38 L265.69 364.53 L265.78 361.64 L265.87 358.73 L265.95 355.81 L266.03 352.90 L266.10 350.00 L266.17 346.78 L266.24 343.49 L266.30 340.14 L266.35 336.74 L266.40 333.32 L266.45 329.88 L266.49 326.45 L266.53 323.05 L266.58 319.69 L266.62 316.38 L266.66 313.14 L266.70 310.00 L266.74 307.36 L266.77 304.78 L266.81 302.26 L266.85 299.78 L266.88 297.33 L266.91 294.90 L266.95 292.48 L266.98 290.04 L267.01 287.59 L267.04 285.11 L267.07 282.58 L267.10 280.00 L267.13 277.12 L267.16 274.21 L267.19 271.28 L267.22 268.31 L267.25 265.33 L267.27 262.32 L267.30 259.30 L267.32 256.26 L267.34 253.21 L267.36 250.15 L267.38 247.08 L267.40 244.00 L267.42 240.74 L267.43 237.46 L267.44 234.15 L267.45 230.82 L267.46 227.48 L267.46 224.13 L267.47 220.77 L267.47 217.41 L267.48 214.05 L267.49 210.69 L267.49 207.34 L267.50 204.00 L267.51 200.67 L267.52 197.33 L267.52 194.00 L267.53 190.67 L267.54 187.33 L267.55 184.00 L267.56 180.67 L267.57 177.33 L267.58 174.00 L267.58 170.67 L267.59 167.33 L267.60 164.00 L267.61 160.67 L267.61 157.33 L267.62 154.00 L267.63 150.67 L267.63 147.33 L267.64 144.00 L267.64 140.67 L267.65 137.33 L267.66 134.00 L267.67 130.67 L267.68 127.33 L267.70 124.00 L267.72 120.66 L267.74 117.31 L267.76 113.95 L267.78 110.59 L267.80 107.23 L267.83 103.87 L267.86 100.52 L267.88 97.18 L267.91 93.85 L267.94 90.54 L267.97 87.26 L268.00 84.00 L268.03 80.93 L268.06 77.89 L268.09 74.87 L268.13 71.86 L268.16 68.87 L268.19 65.88 L268.23 62.90 L268.26 59.93 L268.30 56.96 L268.33 53.98 L268.37 50.99 L268.40 48.00 L268.43 45.01 L268.46 42.03 L268.48 39.06 L268.50 36.10 L268.52 33.14 L268.54 30.17 L268.57 27.20 L268.60 24.20 L268.63 21.19 L268.68 18.16 L268.73 15.10 L268.80 12.00 L268.89 8.35 L268.98 4.21 L269.09 -0.24 L269.21 -4.87 L269.33 -9.52 L269.46 -14.05 L269.60 -18.29 L269.74 -22.10 L269.88 -25.33 L270.02 -27.82 L270.16 -29.43 L270.30 -30.00 L270.44 -29.43 L270.59 -27.82 L270.74 -25.33 L270.90 -22.10 L271.06 -18.29 L271.21 -14.05 L271.37 -9.53 L271.53 -4.87 L271.68 -0.24 L271.83 4.21 L271.97 8.35 L272.10 12.00 L272.22 15.10 L272.33 18.16 L272.44 21.19 L272.54 24.20 L272.65 27.20 L272.75 30.17 L272.84 33.14 L272.94 36.10 L273.03 39.06 L273.12 42.03 L273.21 45.01 L273.30 48.00 L273.39 50.99 L273.47 53.98 L273.55 56.96 L273.63 59.93 L273.71 62.90 L273.79 65.88 L273.86 68.87 L273.93 71.86 L274.00 74.87 L274.07 77.89 L274.14 80.93 L274.20 84.00 L274.26 87.26 L274.32 90.54 L274.38 93.85 L274.43 97.18 L274.48 100.52 L274.53 103.87 L274.58 107.23 L274.62 110.59 L274.67 113.95 L274.71 117.31 L274.75 120.66 L274.80 124.00 L274.84 127.33 L274.89 130.67 L274.93 134.00 L274.97 137.33 L275.01 140.67 L275.05 144.00 L275.09 147.33 L275.13 150.67 L275.17 154.00 L275.21 157.33 L275.26 160.67 L275.30 164.00 L275.35 167.33 L275.40 170.67 L275.45 174.00 L275.50 177.33 L275.55 180.67 L275.60 184.00 L275.65 187.33 L275.70 190.67 L275.75 194.00 L275.80 197.33 L275.85 200.67 L275.90 204.00 L275.95 207.34 L275.99 210.69 L276.03 214.05 L276.07 217.41 L276.11 220.77 L276.15 224.13 L276.19 227.48 L276.23 230.82 L276.28 234.15 L276.32 237.46 L276.36 240.74 L276.40 244.00 L276.44 247.06 L276.48 250.09 L276.52 253.09 L276.55 256.07 L276.59 259.04 L276.63 262.00 L276.67 264.96 L276.71 267.93 L276.75 270.91 L276.80 273.91 L276.85 276.94 L276.90 280.00 L276.96 283.28 L277.02 286.61 L277.09 289.99 L277.16 293.39 L277.23 296.81 L277.30 300.23 L277.38 303.63 L277.46 307.01 L277.54 310.36 L277.62 313.64 L277.71 316.86 L277.80 320.00 L277.88 322.69 L277.97 325.38 L278.05 328.07 L278.14 330.74 L278.23 333.38 L278.33 335.98 L278.42 338.52 L278.52 341.00 L278.61 343.40 L278.71 345.70 L278.80 347.91 L278.90 350.00 L278.96 351.34 L279.03 352.61 L279.09 353.82 L279.15 354.98 L279.21 356.10 L279.27 357.20 L279.34 358.28 L279.40 359.37 L279.47 360.47 L279.54 361.60 L279.62 362.78 L279.70 364.00 L279.79 365.49 L279.88 367.02 L279.96 368.58 L280.04 370.17 L280.12 371.78 L280.22 373.40 L280.32 375.03 L280.43 376.66 L280.57 378.28 L280.72 379.88 L280.90 381.45 L281.10 383.00 L281.31 384.46 L281.54 385.94 L281.79 387.43 L282.05 388.93 L282.32 390.41 L282.61 391.87 L282.92 393.31 L283.24 394.72 L283.58 396.08 L283.93 397.38 L284.31 398.63 L284.70 399.80 L284.99 400.63 L285.28 401.43 L285.57 402.21 L285.87 402.97 L286.17 403.71 L286.49 404.42 L286.83 405.11 L287.18 405.76 L287.56 406.39 L287.97 406.99 L288.42 407.56 L288.90 408.10 L289.40 408.58 L289.92 409.03 L290.48 409.45 L291.06 409.84 L291.66 410.21 L292.29 410.55 L292.93 410.87 L293.59 411.17 L294.25 411.45 L294.93 411.72 L295.61 411.96 L296.30 412.20 L297.06 412.43 L297.83 412.63 L298.62 412.79 L299.43 412.93 L300.25 413.05 L301.08 413.15 L301.93 413.23 L302.78 413.31 L303.65 413.38 L304.53 413.45 L305.41 413.52 L306.30 413.60 L307.33 413.70 L308.37 413.78 L309.42 413.86 L310.48 413.94 L311.56 414.01 L312.65 414.07 L313.76 414.12 L314.88 414.17 L316.03 414.21 L317.20 414.25 L318.39 414.28 L319.60 414.30 L321.15 414.31 L322.75 414.31 L324.40 414.29 L326.08 414.26 L327.80 414.21 L329.54 414.16 L331.29 414.11 L333.05 414.06 L334.81 414.00 L336.56 413.96 L338.29 413.92 L340.00 413.90 L341.69 413.89 L343.40 413.88 L345.13 413.87 L346.87 413.87 L348.60 413.87 L350.33 413.88 L352.04 413.88 L353.72 413.89 L355.36 413.89 L356.96 413.90 L358.51 413.90 L360.00 413.90 L361.13 413.90 L362.25 413.90 L363.37 413.90 L364.46 413.90 L365.54 413.90 L366.59 413.90 L367.61 413.90 L368.59 413.90 L369.52 413.90 L370.41 413.90 L371.23 413.90 L372.00 413.90 L372.41 413.90 L372.80 413.90 L373.17 413.91 L373.53 413.91 L373.87 413.91 L374.20 413.92 L374.51 413.92 L374.82 413.92 L375.12 413.92 L375.42 413.92 L375.71 413.91 L376.00 413.90 L376.22 413.89 L376.45 413.89 L376.67 413.89 L376.88 413.89 L377.10 413.89 L377.30 413.89 L377.50 413.88 L377.70 413.87 L377.89 413.84 L378.07 413.81 L378.24 413.76 L378.40 413.70 L378.53 413.64 L378.64 413.57 L378.76 413.50 L378.86 413.42 L378.97 413.34 L379.06 413.25 L379.16 413.15 L379.25 413.05 L379.34 412.95 L379.43 412.84 L379.51 412.72 L379.60 412.60 L379.71 412.43 L379.82 412.25 L379.92 412.05 L380.02 411.84 L380.11 411.62 L380.20 411.40 L380.29 411.17 L380.37 410.93 L380.45 410.70 L380.54 410.46 L380.62 410.23 L380.70 410.00 L380.78 409.77 L380.87 409.54 L380.95 409.31 L381.03 409.09 L381.10 408.86 L381.18 408.63 L381.25 408.39 L381.32 408.15 L381.39 407.89 L381.46 407.61 L381.53 407.32 L381.60 407.00 L381.72 406.38 L381.83 405.70 L381.94 404.96 L382.04 404.17 L382.14 403.34 L382.24 402.47 L382.33 401.58 L382.43 400.67 L382.52 399.75 L382.61 398.83 L382.70 397.91 L382.80 397.00 L382.91 395.95 L383.03 394.90 L383.14 393.85 L383.26 392.79 L383.37 391.71 L383.48 390.61 L383.59 389.49 L383.70 388.33 L383.80 387.12 L383.91 385.87 L384.00 384.57 L384.10 383.20 L384.24 380.96 L384.38 378.58 L384.50 376.07 L384.63 373.45 L384.74 370.73 L384.85 367.92 L384.96 365.04 L385.06 362.10 L385.15 359.11 L385.24 356.09 L385.32 353.05 L385.40 350.00 L385.48 346.20 L385.55 342.29 L385.61 338.28 L385.65 334.19 L385.69 330.03 L385.72 325.82 L385.74 321.55 L385.77 317.25 L385.79 312.94 L385.82 308.62 L385.86 304.30 L385.90 300.00 L385.95 295.41 L386.00 290.74 L386.05 286.00 L386.11 281.22 L386.16 276.42 L386.21 271.61 L386.27 266.83 L386.33 262.09 L386.39 257.41 L386.46 252.83 L386.53 248.35 L386.60 244.00 L386.66 240.42 L386.73 236.91 L386.80 233.45 L386.88 230.05 L386.95 226.69 L387.03 223.38 L387.11 220.10 L387.18 216.84 L387.26 213.61 L387.34 210.40 L387.42 207.20 L387.50 204.00 L387.57 201.05 L387.65 198.11 L387.72 195.17 L387.80 192.24 L387.87 189.34 L387.95 186.46 L388.03 183.61 L388.10 180.79 L388.18 178.02 L388.25 175.29 L388.33 172.62 L388.40 170.00 L388.46 167.82 L388.51 165.65 L388.57 163.49 L388.62 161.35 L388.67 159.24 L388.72 157.17 L388.77 155.14 L388.83 153.17 L388.89 151.26 L388.95 149.42 L389.02 147.67 L389.10 146.00 L389.16 144.86 L389.22 143.65 L389.28 142.41 L389.34 141.16 L389.41 139.95 L389.48 138.80 L389.55 137.74 L389.62 136.80 L389.69 136.02 L389.76 135.42 L389.83 135.03 L389.90 134.90 L389.97 135.03 L390.05 135.42 L390.12 136.01 L390.20 136.80 L390.28 137.74 L390.36 138.80 L390.44 139.95 L390.51 141.16 L390.59 142.41 L390.66 143.65 L390.73 144.86 L390.80 146.00 L390.89 147.67 L390.98 149.42 L391.06 151.26 L391.13 153.17 L391.20 155.14 L391.27 157.17 L391.34 159.24 L391.41 161.35 L391.47 163.49 L391.55 165.65 L391.62 167.82 L391.70 170.00 L391.80 172.62 L391.90 175.29 L392.01 178.02 L392.12 180.79 L392.23 183.61 L392.35 186.46 L392.46 189.34 L392.57 192.24 L392.68 195.17 L392.79 198.10 L392.90 201.05 L393.00 204.00 L393.11 207.20 L393.21 210.42 L393.31 213.66 L393.41 216.91 L393.51 220.19 L393.61 223.49 L393.71 226.82 L393.81 230.19 L393.90 233.58 L394.00 237.01 L394.10 240.49 L394.20 244.00 L394.31 248.03 L394.42 252.12 L394.53 256.27 L394.64 260.47 L394.74 264.71 L394.85 268.99 L394.96 273.30 L395.08 277.63 L395.20 281.97 L395.33 286.32 L395.46 290.66 L395.60 295.00 L395.75 299.56 L395.90 304.21 L396.05 308.93 L396.20 313.69 L396.36 318.47 L396.53 323.24 L396.70 327.96 L396.89 332.62 L397.09 337.18 L397.31 341.61 L397.54 345.90 L397.80 350.00 L398.01 353.11 L398.22 356.20 L398.44 359.26 L398.67 362.27 L398.90 365.23 L399.15 368.11 L399.40 370.91 L399.67 373.61 L399.95 376.20 L400.25 378.68 L400.57 381.01 L400.90 383.20 L401.12 384.49 L401.34 385.72 L401.56 386.89 L401.79 388.01 L402.03 389.09 L402.27 390.13 L402.51 391.14 L402.77 392.13 L403.04 393.11 L403.31 394.07 L403.60 395.03 L403.90 396.00 L404.17 396.85 L404.45 397.70 L404.74 398.55 L405.04 399.39 L405.34 400.22 L405.65 401.03 L405.97 401.82 L406.29 402.59 L406.61 403.32 L406.94 404.02 L407.27 404.68 L407.60 405.30 L407.83 405.70 L408.06 406.09 L408.28 406.46 L408.51 406.82 L408.74 407.16 L408.97 407.49 L409.21 407.80 L409.45 408.10 L409.70 408.39 L409.96 408.67 L410.22 408.94 L410.50 409.20 L410.76 409.43 L411.03 409.64 L411.30 409.84 L411.57 410.03 L411.86 410.21 L412.15 410.38 L412.44 410.55 L412.74 410.71 L413.05 410.86 L413.36 411.01 L413.68 411.15 L414.00 411.30 L414.37 411.46 L414.76 411.61 L415.15 411.76 L415.55 411.90 L415.96 412.03 L416.37 412.15 L416.79 412.28 L417.22 412.39 L417.66 412.50 L418.10 412.60 L418.55 412.70 L419.00 412.80 L419.54 412.90 L420.09 413.00 L420.65 413.08 L421.22 413.16 L421.80 413.23 L422.39 413.29 L422.98 413.35 L423.58 413.40 L424.19 413.45 L424.79 413.50 L425.40 413.55 L426.00 413.60 L426.64 413.65 L427.29 413.70 L427.93 413.74 L428.58 413.78 L429.23 413.82 L429.89 413.85 L430.55 413.88 L431.22 413.91 L431.90 413.94 L432.59 413.96 L433.29 413.98 L434.00 414.00 L434.83 414.02 L435.63 414.03 L436.43 414.04 L437.23 414.04 L438.03 414.04 L438.87 414.03 L439.73 414.03 L440.65 414.02 L441.62 414.01 L442.66 414.01 L443.78 414.00 L445.00 414.00 L448.10 414.00 L451.71 414.00 L455.74 414.00 L460.13 414.00 L464.82 414.00 L469.72 414.00 L474.79 414.00 L479.93 414.00 L485.10 414.00 L490.21 414.00 L495.20 414.00 L500.00 414.00 L505.05 414.00 L510.38 414.00 L515.89 414.00 L521.50 414.00 L527.14 414.00 L532.70 414.00 L538.12 414.00 L543.30 414.00 L548.16 414.00 L552.62 414.00 L556.60 414.00 L560.00 414.00 L561.34 414.00 L562.60 414.00 L563.80 414.01 L564.92 414.01 L565.98 414.01 L566.97 414.01 L567.92 414.02 L568.82 414.02 L569.67 414.02 L570.48 414.01 L571.25 414.01 L572.00 414.00 L572.41 414.00 L572.81 414.00 L573.19 414.01 L573.55 414.02 L573.90 414.04 L574.23 414.04 L574.55 414.05 L574.86 414.04 L575.16 414.03 L575.45 414.00 L575.73 413.96 L576.00 413.90 L576.20 413.85 L576.39 413.79 L576.58 413.74 L576.76 413.67 L576.94 413.61 L577.10 413.53 L577.27 413.45 L577.43 413.36 L577.58 413.26 L577.72 413.15 L577.87 413.03 L578.00 412.90 L578.15 412.73 L578.29 412.53 L578.42 412.32 L578.54 412.10 L578.65 411.86 L578.75 411.61 L578.85 411.36 L578.94 411.09 L579.03 410.82 L579.12 410.55 L579.21 410.27 L579.30 410.00 L579.40 409.67 L579.50 409.33 L579.59 408.99 L579.68 408.64 L579.76 408.29 L579.84 407.93 L579.91 407.55 L579.99 407.17 L580.06 406.77 L580.14 406.36 L580.22 405.94 L580.30 405.50 L580.42 404.84 L580.55 404.14 L580.68 403.41 L580.81 402.65 L580.93 401.87 L581.06 401.07 L581.19 400.25 L581.32 399.41 L581.44 398.57 L581.57 397.71 L581.68 396.86 L581.80 396.00 L581.93 395.00 L582.06 393.98 L582.19 392.95 L582.32 391.90 L582.44 390.84 L582.56 389.76 L582.68 388.67 L582.80 387.57 L582.91 386.45 L583.01 385.31 L583.11 384.17 L583.20 383.00 L583.30 381.61 L583.38 380.18 L583.45 378.73 L583.52 377.25 L583.58 375.76 L583.63 374.24 L583.68 372.72 L583.74 371.18 L583.79 369.64 L583.85 368.09 L583.92 366.54 L584.00 365.00 L584.09 363.37 L584.19 361.73 L584.29 360.08 L584.40 358.42 L584.50 356.75 L584.62 355.08 L584.73 353.40 L584.84 351.72 L584.96 350.04 L585.07 348.36 L585.19 346.68 L585.30 345.00 L585.41 343.30 L585.52 341.59 L585.63 339.88 L585.74 338.17 L585.85 336.45 L585.96 334.73 L586.07 333.02 L586.19 331.30 L586.31 329.59 L586.43 327.89 L586.56 326.19 L586.70 324.50 L586.84 322.83 L586.98 321.13 L587.13 319.41 L587.29 317.68 L587.45 315.96 L587.61 314.25 L587.77 312.57 L587.93 310.93 L588.10 309.34 L588.27 307.81 L588.43 306.36 L588.60 305.00 L588.71 304.11 L588.82 303.23 L588.93 302.37 L589.05 301.53 L589.16 300.71 L589.27 299.92 L589.38 299.16 L589.50 298.44 L589.62 297.76 L589.74 297.12 L589.87 296.53 L590.00 296.00 L590.07 295.73 L590.14 295.45 L590.22 295.17 L590.29 294.90 L590.36 294.64 L590.44 294.40 L590.51 294.18 L590.59 293.99 L590.67 293.83 L590.74 293.71 L590.82 293.63 L590.90 293.60 L590.98 293.63 L591.06 293.70 L591.14 293.82 L591.23 293.98 L591.31 294.17 L591.40 294.39 L591.48 294.64 L591.57 294.90 L591.65 295.17 L591.74 295.45 L591.82 295.73 L591.90 296.00 L592.05 296.53 L592.19 297.12 L592.33 297.76 L592.47 298.44 L592.61 299.16 L592.75 299.92 L592.88 300.71 L593.02 301.53 L593.16 302.37 L593.30 303.23 L593.45 304.11 L593.60 305.00 L593.83 306.36 L594.07 307.81 L594.31 309.33 L594.56 310.91 L594.82 312.54 L595.08 314.22 L595.34 315.93 L595.59 317.65 L595.85 319.38 L596.11 321.11 L596.36 322.82 L596.60 324.50 L596.85 326.26 L597.10 328.04 L597.35 329.84 L597.59 331.66 L597.84 333.48 L598.08 335.30 L598.32 337.12 L598.56 338.94 L598.79 340.73 L599.03 342.51 L599.27 344.27 L599.50 346.00 L599.71 347.55 L599.91 349.09 L600.10 350.60 L600.28 352.10 L600.47 353.59 L600.65 355.07 L600.85 356.55 L601.05 358.03 L601.26 359.51 L601.49 360.99 L601.73 362.49 L602.00 364.00 L602.30 365.60 L602.61 367.22 L602.93 368.86 L603.27 370.51 L603.62 372.16 L603.98 373.81 L604.36 375.45 L604.75 377.07 L605.14 378.66 L605.55 380.22 L605.97 381.73 L606.40 383.20 L606.77 384.42 L607.14 385.62 L607.52 386.81 L607.91 387.98 L608.30 389.13 L608.70 390.26 L609.11 391.36 L609.54 392.45 L609.98 393.50 L610.44 394.53 L610.91 395.53 L611.40 396.50 L611.82 397.29 L612.25 398.07 L612.68 398.83 L613.12 399.56 L613.56 400.28 L614.02 400.98 L614.50 401.66 L614.99 402.33 L615.51 402.97 L616.04 403.60 L616.61 404.21 L617.20 404.80 L617.85 405.39 L618.53 405.98 L619.26 406.54 L620.00 407.09 L620.77 407.62 L621.56 408.13 L622.36 408.62 L623.16 409.08 L623.96 409.50 L624.75 409.90 L625.54 410.27 L626.30 410.60 L626.94 410.85 L627.58 411.07 L628.21 411.26 L628.85 411.42 L629.48 411.57 L630.11 411.70 L630.75 411.81 L631.39 411.91 L632.03 412.01 L632.68 412.10 L633.33 412.20 L634.00 412.30 L634.72 412.40 L635.44 412.50 L636.16 412.58 L636.89 412.65 L637.63 412.72 L638.37 412.78 L639.12 412.83 L639.87 412.89 L640.64 412.94 L641.42 412.99 L642.20 413.04 L643.00 413.10 L643.94 413.17 L644.90 413.24 L645.88 413.30 L646.87 413.37 L647.88 413.43 L648.89 413.49 L649.91 413.55 L650.94 413.61 L651.96 413.66 L652.98 413.71 L653.99 413.76 L655.00 413.80 L656.00 413.84 L657.00 413.87 L658.00 413.90 L659.00 413.93 L660.00 413.95 L661.00 413.97 L662.00 414.00 L663.00 414.01 L664.00 414.03 L665.00 414.05 L666.00 414.08 L667.00 414.10" stroke="#000" stroke-width="2.2"/>
<path d="M666.5 414.1 H704.3" stroke="#000" stroke-width="1.4"/>
</g>
<g font-family="'Liberation Sans', Arial, sans-serif" font-weight="bold" fill="#000" stroke="#000" stroke-width="0.6" stroke-linejoin="round" style="text-rendering:geometricPrecision">
<text x="35.4" y="85.0" font-size="15.0" text-anchor="start" textLength="26.8" lengthAdjust="spacingAndGlyphs">500</text>
<text x="35.4" y="150.6" font-size="15.0" text-anchor="start" textLength="26.8" lengthAdjust="spacingAndGlyphs">400</text>
<text x="35.4" y="221.8" font-size="15.0" text-anchor="start" textLength="26.8" lengthAdjust="spacingAndGlyphs">300</text>
<text x="35.4" y="284.1" font-size="15.0" text-anchor="start" textLength="26.8" lengthAdjust="spacingAndGlyphs">200</text>
<text x="35.4" y="351.6" font-size="15.0" text-anchor="start" textLength="26.8" lengthAdjust="spacingAndGlyphs">100</text>
<text x="60.0" y="421.2" font-size="15.0" text-anchor="start" textLength="9.0" lengthAdjust="spacingAndGlyphs">0</text>
<text x="70.9" y="478.6" font-size="15.0" text-anchor="start" textLength="31.2" lengthAdjust="spacingAndGlyphs">0.00</text>
<text x="196.4" y="478.6" font-size="15.0" text-anchor="start" textLength="31.1" lengthAdjust="spacingAndGlyphs">2.00</text>
<text x="323.0" y="478.6" font-size="15.0" text-anchor="start" textLength="30.4" lengthAdjust="spacingAndGlyphs">4.00</text>
<text x="449.1" y="478.6" font-size="15.0" text-anchor="start" textLength="31.4" lengthAdjust="spacingAndGlyphs">6.00</text>
<text x="574.7" y="478.6" font-size="15.0" text-anchor="start" textLength="30.8" lengthAdjust="spacingAndGlyphs">8.00</text>
<text x="691.0" y="478.6" font-size="15.0" text-anchor="start" textLength="40.0" lengthAdjust="spacingAndGlyphs">10.00</text>
<text x="467.0" y="39.9" font-size="15.4" text-anchor="start" textLength="154.3" lengthAdjust="spacingAndGlyphs">1: Onyx 100 x 4.6 mm</text>
<text x="467.0" y="80.0" font-size="15.4" text-anchor="start" textLength="208.8" lengthAdjust="spacingAndGlyphs">2: Chromolith HR 100 x 3 mm</text>
<text x="467.0" y="119.8" font-size="15.4" text-anchor="start" textLength="184.3" lengthAdjust="spacingAndGlyphs">3: Chromolith 100 x 3 mm</text>
<text x="254.5" y="440.8" font-size="15.0" text-anchor="start" textLength="28.4" lengthAdjust="spacingAndGlyphs">ASC</text>
<text x="374.7" y="438.6" font-size="15.0" text-anchor="start" textLength="29.2" lengthAdjust="spacingAndGlyphs">PAR</text>
<text x="580.6" y="440.6" font-size="15.0" text-anchor="start" textLength="27.4" lengthAdjust="spacingAndGlyphs">CAF</text>
<text x="659.0" y="259.9" font-size="15.0" text-anchor="start" textLength="8.6" lengthAdjust="spacingAndGlyphs">3</text>
<text x="543.6" y="325.9" font-size="15.0" text-anchor="start" textLength="8.6" lengthAdjust="spacingAndGlyphs">2</text>
<text x="663.5" y="396.4" font-size="15.0" text-anchor="start" textLength="7.9" lengthAdjust="spacingAndGlyphs">1</text>
<text x="368.4" y="502.8" font-size="15.3" text-anchor="start" textLength="150.2" lengthAdjust="spacingAndGlyphs">Retention time [min]</text>
<text transform="translate(11.7 303.0) rotate(-90)" font-size="15.6" textLength="133.2" lengthAdjust="spacingAndGlyphs">Absorbance [mAu]</text>
</g>
</svg>
</body></html>
